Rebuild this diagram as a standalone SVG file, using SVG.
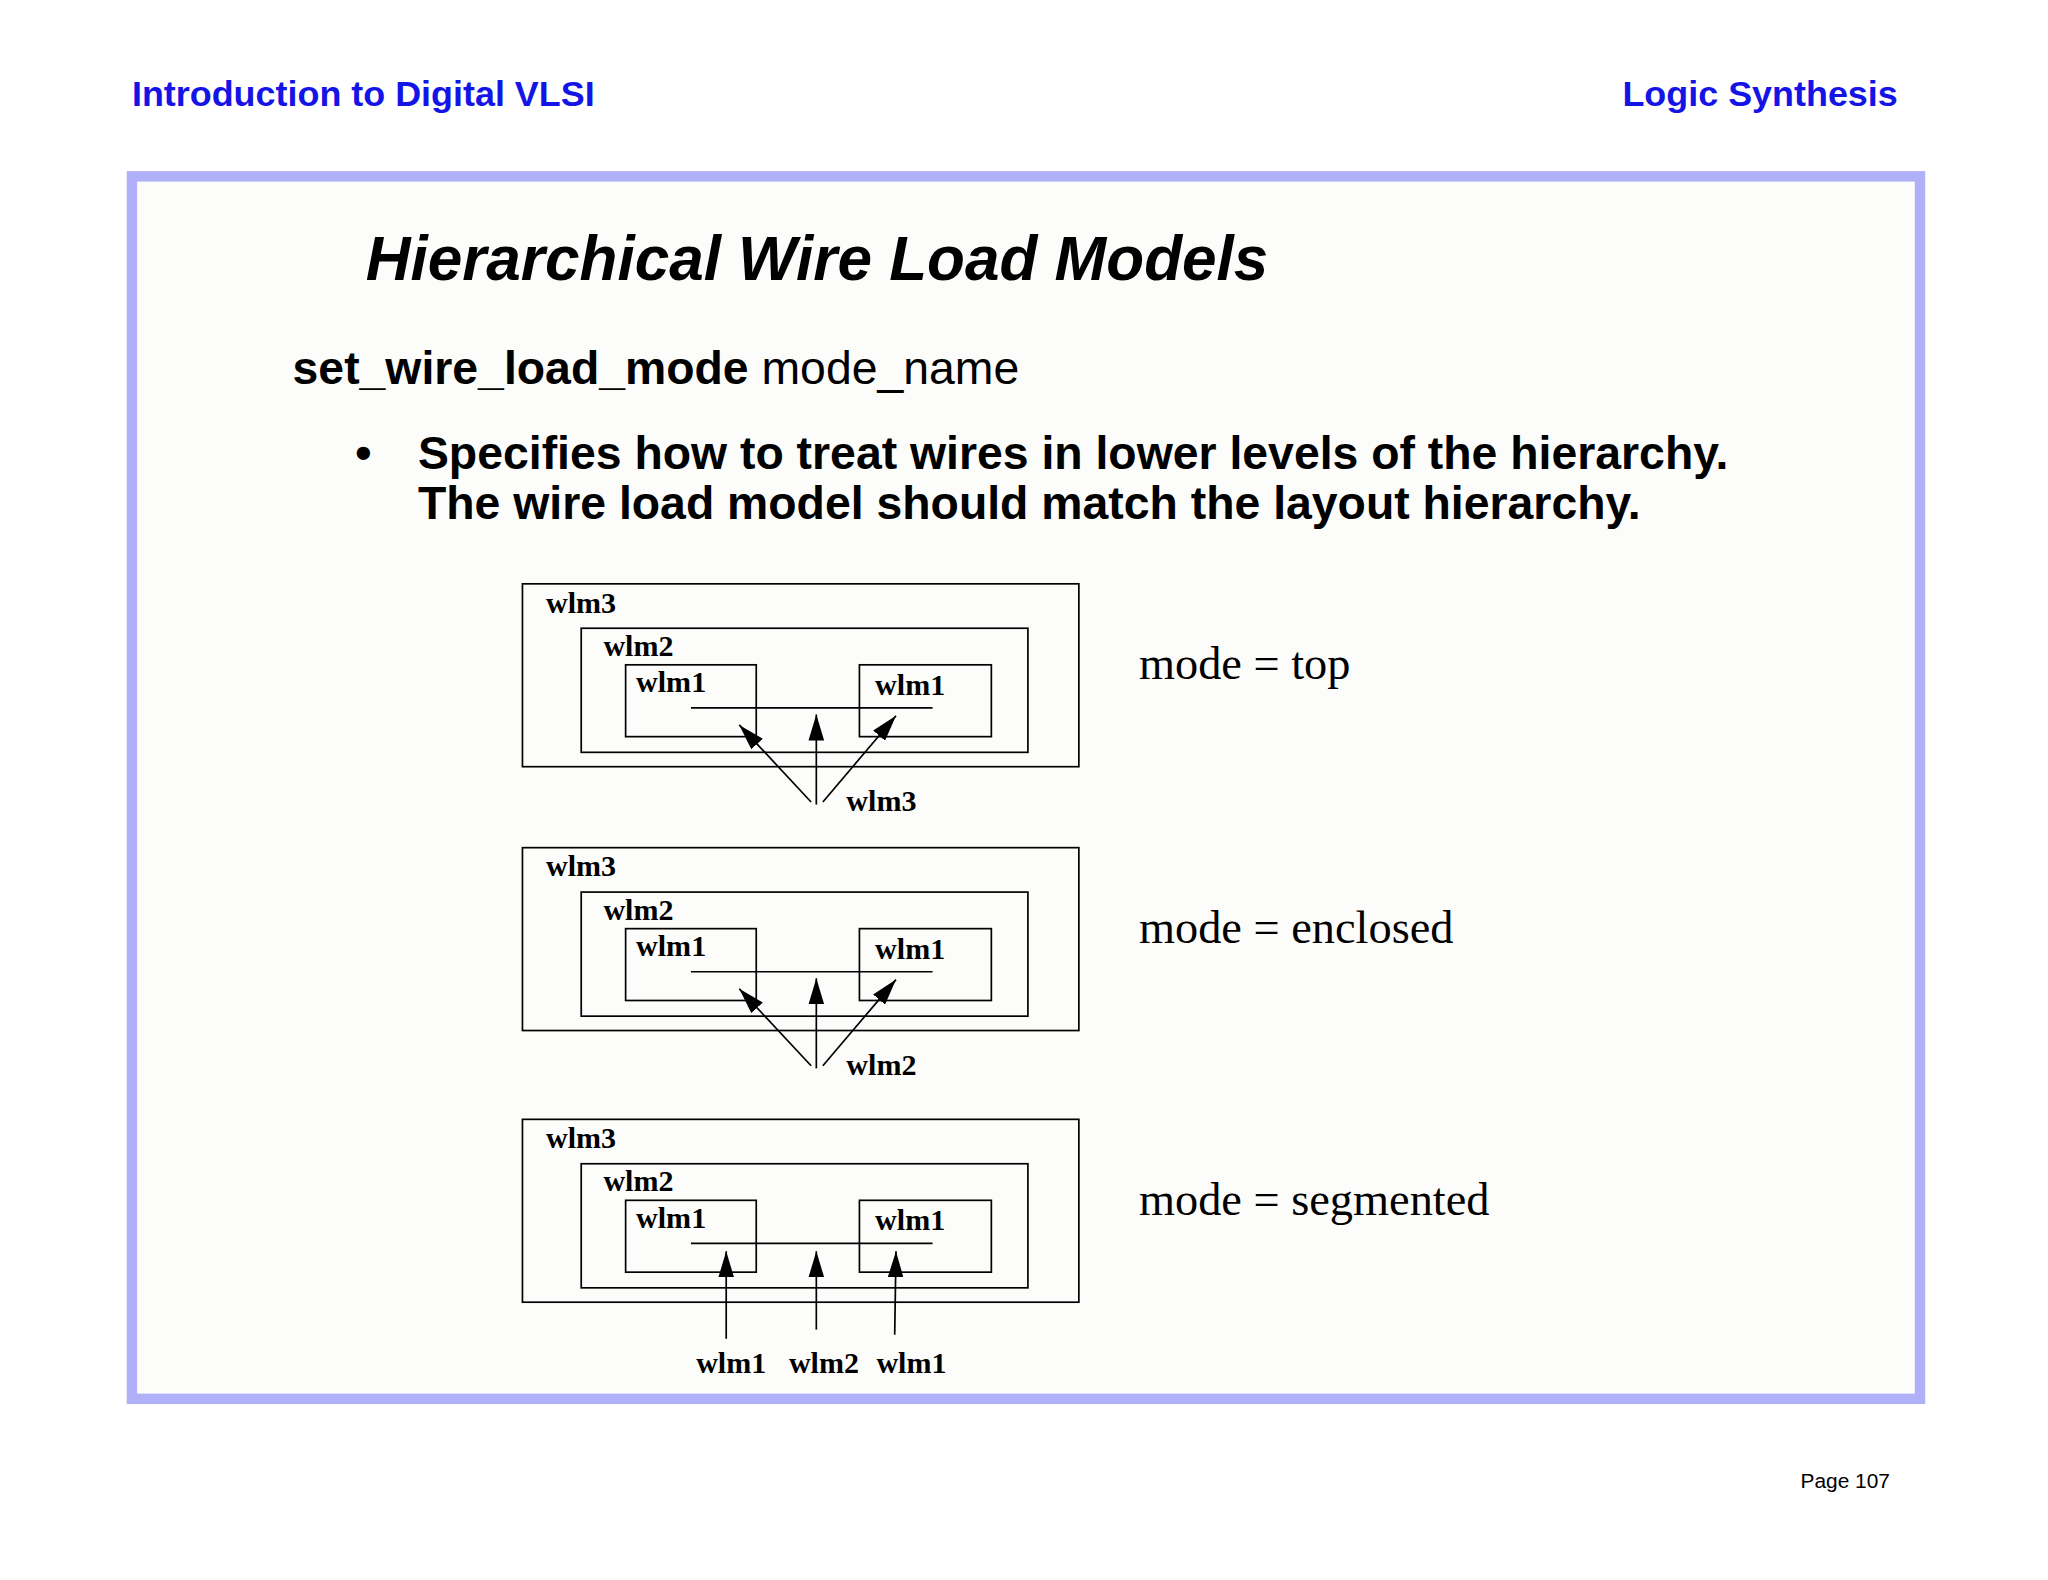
<svg xmlns="http://www.w3.org/2000/svg" width="2048" height="1580" viewBox="0 0 2048 1580">
<style>
.h{font-family:"Liberation Sans",Arial,sans-serif;font-weight:bold;fill:#1414e6;font-size:27.5px}
.w{font-family:"Liberation Serif","Times New Roman",serif;font-weight:bold;font-size:23px;fill:#000}
.m{font-family:"Liberation Serif","Times New Roman",serif;font-size:35.5px;fill:#000}
.b{fill:none;stroke:#000;stroke-width:1.3}
.l{stroke:#000;stroke-width:1.3;fill:none}
</style>
<defs>
<marker id="ar" viewBox="0 0 10 10" refX="10" refY="5" markerWidth="20" markerHeight="12" markerUnits="userSpaceOnUse" orient="auto" preserveAspectRatio="none"><path d="M0,0 L10,5 L0,10 z" fill="#000"/></marker>
<g id="boxes">
<rect class="b" x="400" y="447" width="426" height="140"/>
<rect class="b" x="445" y="481" width="342" height="95"/>
<rect class="b" x="479" y="509" width="100" height="55"/>
<rect class="b" x="658" y="509" width="101" height="55"/>
<line class="l" x1="529" y1="542" x2="714" y2="542"/>
<text class="w" x="418" y="469">wlm3</text>
<text class="w" x="462" y="502">wlm2</text>
<text class="w" x="487" y="530">wlm1</text>
<text class="w" x="670" y="532">wlm1</text>
</g>
</defs>
<rect width="2048" height="1580" fill="#fff"/>
<g transform="scale(1.30612)">
<rect x="101" y="135" width="1369" height="936" fill="#fcfdfb" stroke="#b0b0f8" stroke-width="8"/>
<text class="h" x="101" y="81">Introduction to Digital VLSI</text>
<text class="h" x="1453" y="81" text-anchor="end">Logic Synthesis</text>
<text x="1447" y="1139" text-anchor="end" font-family="Liberation Sans,Arial,sans-serif" font-size="16">Page 107</text>
<text x="280" y="214" font-family="Liberation Sans,Arial,sans-serif" font-weight="bold" font-style="italic" font-size="47.5">Hierarchical Wire Load Models</text>
<text x="224" y="294" font-family="Liberation Sans,Arial,sans-serif" font-size="35.5"><tspan font-weight="bold">set_wire_load_mode</tspan> mode_name</text>
<g font-family="Liberation Sans,Arial,sans-serif" font-weight="bold" font-size="35.5">
<text x="272" y="359">•</text>
<text x="320" y="359">Specifies how to treat wires in lower levels of the hierarchy.</text>
<text x="320" y="397">The wire load model should match the layout hierarchy.</text>
</g>
<g id="top">
<use href="#boxes"/>
<text class="m" x="872" y="520">mode = top</text>
<text class="w" x="648" y="621">wlm3</text>
</g>
<g id="enclosed" transform="translate(0,202)">
<use href="#boxes"/>
<text class="m" x="872" y="520">mode = enclosed</text>
<text class="w" x="648" y="621">wlm2</text>
</g>
<g id="segmented" transform="translate(0,410)">
<use href="#boxes"/>
<text class="m" x="872" y="520">mode = segmented</text>
<text class="w" x="533" y="641">wlm1</text>
<text class="w" x="604" y="641">wlm2</text>
<text class="w" x="671" y="641">wlm1</text>
</g>
<g id="connectors">
<line class="l" x1="625" y1="616" x2="625" y2="547" marker-end="url(#ar)"/>
<line class="l" x1="621" y1="614" x2="566" y2="555" marker-end="url(#ar)"/>
<line class="l" x1="630" y1="614" x2="686" y2="548" marker-end="url(#ar)"/>
<line class="l" x1="625" y1="818" x2="625" y2="749" marker-end="url(#ar)"/>
<line class="l" x1="621" y1="816" x2="566" y2="757" marker-end="url(#ar)"/>
<line class="l" x1="630" y1="816" x2="686" y2="750" marker-end="url(#ar)"/>
<line class="l" x1="556" y1="1025" x2="556" y2="958" marker-end="url(#ar)"/>
<line class="l" x1="625" y1="1018" x2="625" y2="958" marker-end="url(#ar)"/>
<line class="l" x1="685" y1="1022" x2="686" y2="958" marker-end="url(#ar)"/>
</g>
</g>
</svg>
